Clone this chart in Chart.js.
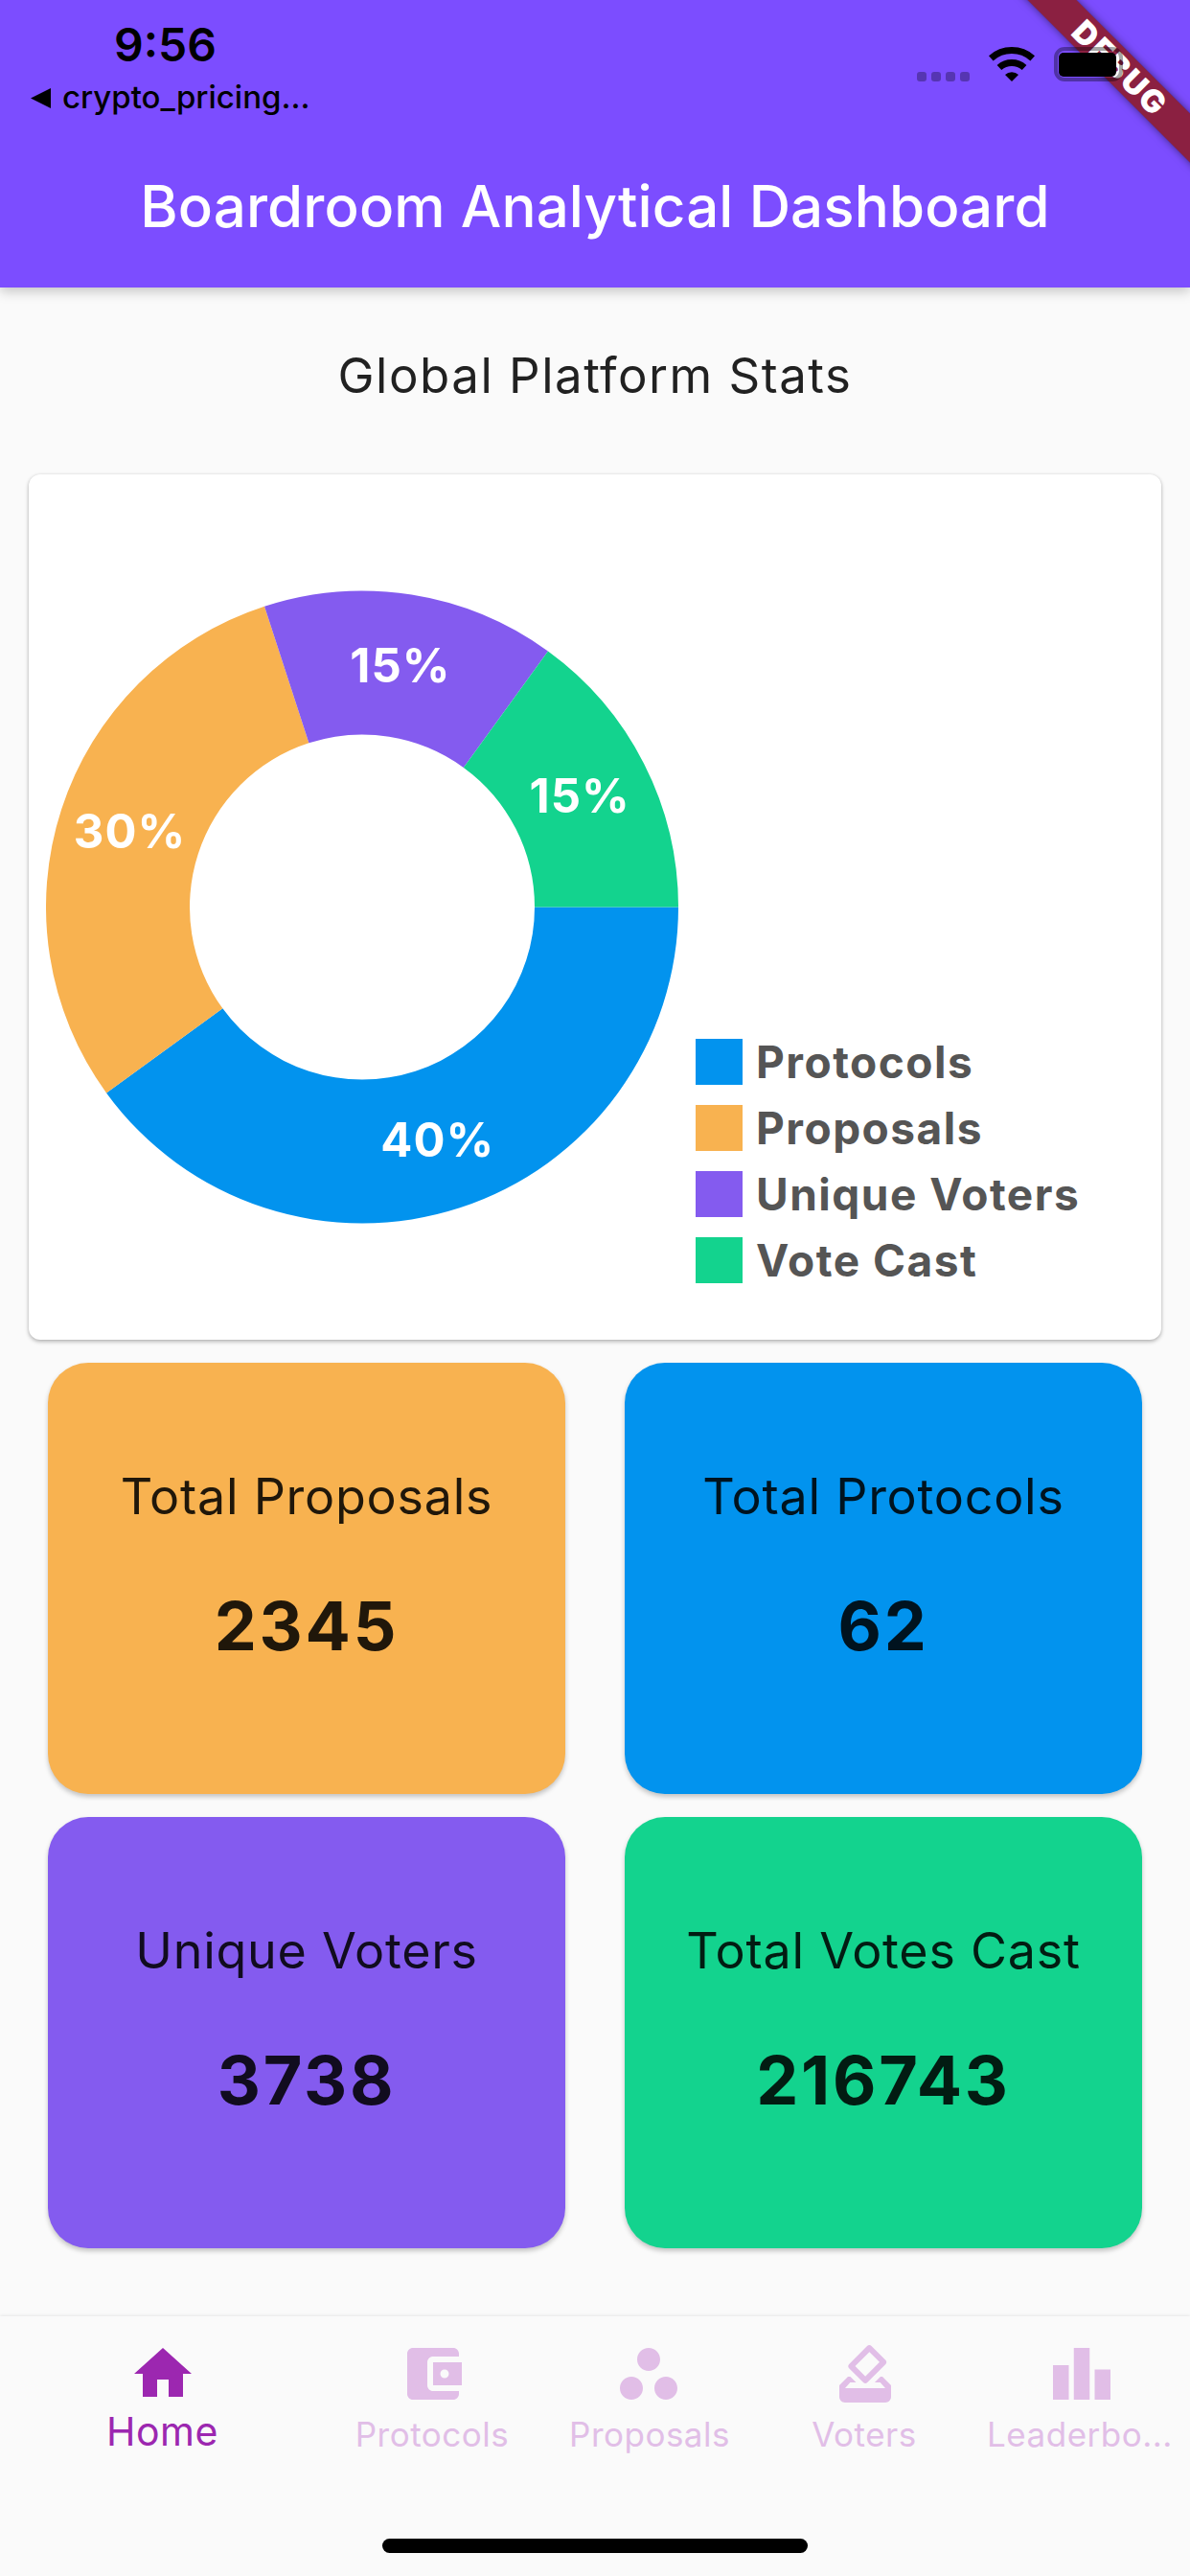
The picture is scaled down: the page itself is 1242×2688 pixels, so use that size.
<!DOCTYPE html>
<html>
<head>
<meta charset="utf-8">
<title>Boardroom Analytical Dashboard</title>
<script src="https://cdn.jsdelivr.net/npm/chart.js@4/dist/chart.umd.min.js"></script>
<style>
  html, body { margin: 0; padding: 0; }
  body { width: 1242px; height: 2688px; background: #fafafa; overflow: hidden; position: relative; font-family: Inter, sans-serif; }
  .abs { position: absolute; white-space: nowrap; line-height: 1; }
  .center { text-align: center; }
  #appbar { position: absolute; left: 0; top: 0; width: 1242px; height: 300px; background: #7c4dff; box-shadow: 0 4px 12px rgba(0,0,0,.22); }
  #card { position: absolute; left: 30px; top: 495px; width: 1182px; height: 903px; background: #fff; border-radius: 12px; box-shadow: 0 2px 4px rgba(0,0,0,.28), 0 0 3px rgba(0,0,0,.08); }
  #chartBox { position: absolute; left: 48px; top: 495px; width: 660px; height: 903px; }
  #legend { position: absolute; left: 726px; top: 1084px; }
  .legendRow { display: flex; height: 48px; margin-bottom: 21px; align-items: center; font-weight: 700; font-size: 46px; line-height: 48px; letter-spacing: 1.5px; color: #555; white-space: nowrap; }
  .legendRow i { display: block; width: 49px; height: 48px; margin-right: 14px; }
  .tile { position: absolute; width: 540px; height: 450px; border-radius: 42px; box-shadow: 0 3px 5px rgba(0,0,0,.22); color: rgba(0,0,0,.87); }
  .tile .label { position: absolute; left: 0; right: 0; top: 114px; text-align: center; font-size: 52px; line-height: 1; letter-spacing: .75px; }
  .tile .value { position: absolute; left: 0; right: 0; top: 240px; text-align: center; font-size: 70px; line-height: 1; font-weight: 700; letter-spacing: 2.8px; }
  #nav { position: absolute; left: 0; top: 2417px; width: 1242px; height: 271px; background: #fafafa; box-shadow: 0 -1px 3px rgba(0,0,0,.08); }
  .navIcon { position: absolute; top: 2441px; width: 72px; height: 72px; }
  #bannerShadow { position: absolute; left: 1001px; top: 54.5px; width: 340px; height: 36px; transform: rotate(45deg); background: rgba(0,0,0,.5); box-shadow: 0 0 9px rgba(0,0,0,.5); }
  #banner { position: absolute; left: 1001px; top: 54.5px; width: 340px; height: 36px; transform: rotate(45deg); background: rgba(183,28,28,.63); color: #fff; font-weight: 900; font-size: 33px; line-height: 36px; text-align: center; letter-spacing: 2px; text-indent: -5px; }
</style>
</head>
<body>
<div id="appbar"></div>
<div class="abs" style="left:119px;top:23px;font-size:48px;font-weight:600;color:#000">9:56</div>
<svg class="abs" style="left:32px;top:92px" width="21" height="21" viewBox="0 0 21 21"><path d="M21 0V21L0 10.5Z" fill="#000"/></svg>
<div class="abs" style="left:65px;top:85px;font-size:33px;font-weight:500;color:#000">crypto_pricing...</div>
<div class="abs center" style="left:0;width:1242px;top:185px;font-size:60px;font-weight:500;letter-spacing:.12px;color:#fff">Boardroom Analytical Dashboard</div>
<svg class="abs" style="left:957px;top:75px" width="56" height="10" viewBox="0 0 56 10" fill="rgba(0,0,0,.3)"><rect x="0" width="10" height="10" rx="3"/><rect x="15" width="10" height="10" rx="3"/><rect x="30" width="10" height="10" rx="3"/><rect x="45" width="10" height="10" rx="3"/></svg>
<svg class="abs" style="left:1031.5px;top:49px" width="48" height="36" viewBox="0 0 48 36"><path d="M2.3 11.85A32.5 32.5 0 0 1 45.7 11.85M10.95 21.5A19.5 19.5 0 0 1 37.05 21.5" fill="none" stroke="#000" stroke-width="7"/><path d="M24 36L17 29A10 10 0 0 1 31 29Z" fill="#000"/></svg>

<div class="abs center" style="left:0;width:1242px;top:366px;font-size:51px;letter-spacing:1.5px;color:rgba(0,0,0,.87)">Global Platform Stats</div>

<div id="card"></div>
<div id="chartBox"><canvas id="shareChart" width="660" height="903"></canvas></div>
<div id="legend"></div>
<div id="tiles"></div>

<div id="nav"></div>
<div id="navItems"></div>
<div class="abs" style="left:399px;top:2649px;width:444px;height:15px;border-radius:8px;background:#000"></div>

<div id="bannerShadow"></div>
<div id="banner">DEBUG</div>
<svg class="abs" style="left:1098px;top:47px" width="76" height="40" viewBox="0 0 76 40"><rect x="4" y="4" width="68" height="32" rx="9" fill="none" stroke="rgba(0,0,0,.35)" stroke-width="4"/><rect x="7" y="8" width="60" height="25" rx="5" fill="#000"/></svg>

<script>
const categories = ['Protocols', 'Proposals', 'Unique Voters', 'Vote Cast'];
const shareValues = [40, 30, 15, 15];
const sliceColors = ['#0293ee', '#f8b250', '#845bef', '#13d38e'];

const tileLabels = ['Total Proposals', 'Total Protocols', 'Unique Voters', 'Total Votes Cast'];
const tileValues = ['2345', '62', '3738', '216743'];
const tileColors = ['#f8b250', '#0293ee', '#845bef', '#13d38e'];
const tileLeft = [50, 652, 50, 652];
const tileTop = [1422, 1422, 1896, 1896];

const navLabels = ['Home', 'Protocols', 'Proposals', 'Voters', 'Leaderbo...'];
const navCenters = [169.5, 451, 678, 902, 1127];
const navIconLeft = [133.5, 415.5, 641, 867, 1093];
const navPaths = [
  'M10 20v-6h4v6h5v-8h3L12 3 2 12h3v8z',
  'M21 18v1c0 1.1-.9 2-2 2H5c-1.11 0-2-.9-2-2V5c0-1.1.89-2 2-2h14c1.1 0 2 .9 2 2v1h-9c-1.11 0-2 .9-2 2v8c0 1.1.89 2 2 2h9zm-9-2h10V8H12v8zm4-2.5c-.83 0-1.5-.67-1.5-1.5s.67-1.5 1.5-1.5 1.5.67 1.5 1.5-.67 1.5-1.5 1.5z',
  'M6 13c-2.2 0-4 1.8-4 4s1.8 4 4 4 4-1.8 4-4-1.8-4-4-4zm6-10C9.8 3 8 4.8 8 7s1.8 4 4 4 4-1.8 4-4-1.8-4-4-4zm6 10c-2.2 0-4 1.8-4 4s1.8 4 4 4 4-1.8 4-4-1.8-4-4-4z',
  'M18 13h-.68l-2 2h1.91L19 17H5l1.78-2h2.05l-2-2H6l-3 3v4c0 1.1.89 1.99 1.99 1.99H19c1.1 0 2-.89 2-1.99v-4l-3-3zm-1-5.05l-4.95 4.95-3.54-3.54 4.95-4.95L17 7.95zm-4.24-5.66L6.39 8.66c-.39.39-.39 1.02 0 1.41l4.95 4.95c.39.39 1.02.39 1.41 0l6.36-6.36c.39-.39.39-1.02 0-1.41L14.16 2.3c-.38-.4-1.01-.4-1.4-.01z',
  'M7.5 21H2V9h5.5v12zm7.25-18h-5.5v18h5.5V3zM22 10.5h-5.5V21H22V10.5z'
];

// percent text in the middle of each slice
const sliceLabels = {
  id: 'sliceLabels',
  afterDatasetsDraw(chart) {
    const ctx = chart.ctx;
    ctx.save();
    ctx.fillStyle = '#fff';
    ctx.font = '700 49px Inter';
    ctx.letterSpacing = '1px';
    ctx.textAlign = 'center';
    ctx.textBaseline = 'middle';
    chart.getDatasetMeta(0).data.forEach((arc, i) => {
      const p = arc.getCenterPoint();
      ctx.fillText(shareValues[i] + '%', p.x, p.y + 3);
    });
    ctx.restore();
  }
};

// legend as html, the rows come from the chart
const htmlLegend = {
  id: 'htmlLegend',
  afterUpdate(chart) {
    const items = chart.options.plugins.legend.labels.generateLabels(chart);
    document.getElementById('legend').innerHTML = items.map(item =>
      '<div class="legendRow"><i style="background:' + item.fillStyle + '"></i>' + item.text + '</div>'
    ).join('');
  }
};

new Chart(document.getElementById('shareChart'), {
  type: 'doughnut',
  data: {
    labels: categories,
    datasets: [{ data: shareValues, backgroundColor: sliceColors, borderWidth: 0 }]
  },
  options: {
    responsive: false,
    animation: false,
    rotation: 90,
    cutout: 180,
    plugins: { legend: { display: false }, tooltip: { enabled: false } }
  },
  plugins: [sliceLabels, htmlLegend]
});

document.getElementById('tiles').innerHTML = tileLabels.map((label, i) =>
  '<div class="tile" style="left:' + tileLeft[i] + 'px;top:' + tileTop[i] + 'px;background:' + tileColors[i] + '">' +
  '<div class="label">' + label + '</div><div class="value">' + tileValues[i] + '</div></div>'
).join('');

document.getElementById('navItems').innerHTML = navLabels.map((label, i) => {
  const color = i === 0 ? '#9c27b0' : '#e1bee7';
  const size = i === 0 ? 41 : 35;
  const top = (i === 0 ? 2552 : 2553) - 0.8635 * size;
  return '<svg class="navIcon" style="left:' + navIconLeft[i] + 'px" viewBox="0 0 24 24"><path fill="' + color + '" d="' + navPaths[i] + '"/></svg>' +
    '<div class="abs center" style="left:' + (navCenters[i] - 150) + 'px;width:300px;top:' + top + 'px;font-size:' + size + 'px;letter-spacing:.5px;color:' + color + '">' + label + '</div>';
}).join('');
</script>
</body>
</html>
